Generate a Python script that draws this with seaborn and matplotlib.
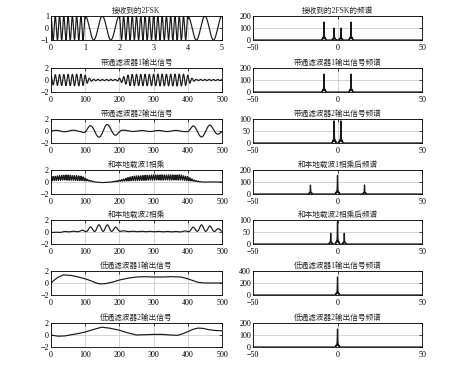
import matplotlib
matplotlib.use('Agg')
import matplotlib.pyplot as plt
import numpy as np
import seaborn as sns

# ---------------- values ----------------
fs = 100                      # samples per second
n_samp = 500
bits = [1, 0, 1, 1, 0]        # one symbol per second
f_mark, f_space = 8, 2        # Hz

# band-pass filter 1 output: envelope of the 8 Hz tone
bp1_n = [0, 10, 90, 100, 112, 125, 190, 200, 230, 390, 400, 412, 425, 500]
bp1_a = [0.7, 0.9, 1.0, 0.8, 0.3, 0.12, 0.1, 0.3, 0.95, 1.0, 0.8, 0.3, 0.1, 0.08]

# band-pass filter 2 output: envelope of the 2 Hz tone, first crest at sample 115
bp2_n = [0, 90, 110, 160, 190, 210, 230, 395, 415, 440, 465, 495, 500]
bp2_a = [0.1, 0.15, 0.85, 1.15, 0.7, 0.15, 0.08, 0.1, 0.85, 1.0, 1.0, 0.4, 0.3]
bp2_crest = 115

# product with local carrier 1 (16 Hz ripple around a slow base)
mix1_n = [0, 40, 90, 110, 130, 150, 175, 200, 240, 300, 380, 400, 420, 440, 500]
mix1_base = [0.55, 0.75, 0.6, 0.25, 0.0, -0.1, 0.0, 0.2, 0.6, 0.75, 0.75, 0.55, 0.2, 0.0, 0.0]
mix1_amp = [0.35, 0.45, 0.4, 0.1, 0.02, 0.01, 0.02, 0.1, 0.4, 0.45, 0.45, 0.35, 0.1, 0.02, 0.0]

# product with local carrier 2 (4 Hz humps, crest at sample 140)
mix2_n = [0, 15, 40, 80, 95, 115, 140, 165, 190, 205, 220, 380, 395, 415, 440, 465, 490, 500]
mix2_base = [0, -0.1, 0.05, 0.1, 0.2, 0.45, 0.65, 0.65, 0.45, 0.2, 0.1, 0.05, 0.12, 0.45, 0.65, 0.55, 0.3, 0.25]
mix2_amp = [0.05, 0.05, 0.03, 0.05, 0.15, 0.4, 0.55, 0.55, 0.35, 0.1, 0.03, 0.03, 0.1, 0.35, 0.55, 0.45, 0.25, 0.2]
mix2_crest = 140

# low-pass outputs
lp1_n = [0, 10, 20, 36, 60, 80, 100, 115, 130, 143, 160, 180, 200, 225, 250, 275, 300,
         325, 350, 380, 400, 415, 430, 445, 460, 480, 500]
lp1_v = [0, 0.5, 0.95, 1.35, 1.25, 1.0, 0.7, 0.4, 0.05, -0.15, -0.1, 0.15, 0.5, 0.8, 1.0,
         1.05, 1.0, 1.0, 1.05, 1.0, 0.7, 0.4, 0.12, 0.02, 0, 0, 0]
lp2_n = [0, 10, 21, 41, 60, 80, 100, 120, 148, 170, 200, 225, 250, 275, 300, 325, 350,
         370, 385, 400, 415, 430, 445, 460, 480, 500]
lp2_v = [0, -0.1, -0.2, -0.15, 0.05, 0.25, 0.5, 0.85, 1.3, 1.15, 0.8, 0.35, 0.0, 0.05,
         0.1, 0.1, 0.0, -0.05, 0.2, 0.55, 0.95, 1.15, 1.1, 0.9, 0.75, 0.7]

# spectra: peak frequencies and heights
spec_f = [[-8, -2, 2, 8], [-8, 8], [-2, 2], [-16, 0, 16], [-4, 0, 4], [0], [0]]
spec_h = [[150, 100, 100, 150], [150, 150], [92, 92], [75, 155, 75], [45, 93, 45], [300], [150]]
spec_ymax = [200, 200, 100, 200, 100, 400, 200]
peak_profile = [0.03, 0.08, 0.04, 0.14, 0.08, 0.3, 1.0, 0.3, 0.08, 0.14, 0.04, 0.08, 0.03]

titles_left = ['接收到的2FSK', '带通滤波器1输出信号', '带通滤波器2输出信号', '和本地载波1相乘',
               '和本地载波2相乘', '低通滤波器1输出信号', '低通滤波器2输出信号']
titles_right = ['接收到的2FSK的频谱', '带通滤波器1输出信号频谱', '带通滤波器2输出信号频谱',
                '和本地载波1相乘后频谱', '和本地载波2相乘后频谱', '低通滤波器1输出信号频谱',
                '低通滤波器2输出信号频谱']

# ---------------- build the signals ----------------
n = np.arange(n_samp)
t = n / fs
freq = np.where(np.repeat(bits, fs) == 1, f_mark, f_space)
s_rx = np.cos(2 * np.pi * freq * t)
s_bp1 = np.interp(n, bp1_n, bp1_a) * np.cos(2 * np.pi * f_mark * t)
s_bp2 = np.interp(n, bp2_n, bp2_a) * np.cos(2 * np.pi * f_space * (n - bp2_crest) / fs)
s_mix1 = np.interp(n, mix1_n, mix1_base) + np.interp(n, mix1_n, mix1_amp) * np.cos(2 * np.pi * 2 * f_mark * t)
s_mix2 = np.interp(n, mix2_n, mix2_base) + np.interp(n, mix2_n, mix2_amp) * np.cos(2 * np.pi * 2 * f_space * (n - mix2_crest) / fs)

left_series = [(t, s_rx), (n, s_bp1), (n, s_bp2), (n, s_mix1), (n, s_mix2),
               (np.array(lp1_n), np.array(lp1_v)), (np.array(lp2_n), np.array(lp2_v))]

fgrid = np.arange(-50, 50, 0.2)
half = len(peak_profile) // 2
spectra = []
for fl, hl in zip(spec_f, spec_h):
    s = np.zeros_like(fgrid)
    for f0, h0 in zip(fl, hl):
        k0 = int(round((f0 + 50) / 0.2))
        s[k0 - half:k0 + half + 1] += h0 * np.array(peak_profile)
    spectra.append(s)

# ---------------- draw ----------------
sns.set_style('white')
plt.rcParams['font.family'] = ['Liberation Serif', 'Noto Sans CJK SC']
plt.rcParams['axes.unicode_minus'] = True

fig = plt.figure(figsize=(4.74, 3.67), dpi=100)
W, H = 474, 367
tops = [16, 68, 119, 170, 220, 271, 323]
ah = 24
lx, lw_ = 51, 171
rx, rw = 253, 169
line_c = '#1a1a1a'
grid_c = '#c4c4c4'


def style(ax):
    for sp in ax.spines.values():
        sp.set_color('black')
        sp.set_linewidth(0.6)
    ax.tick_params(direction='in', length=2, width=0.5, labelsize=5.8,
                   top=True, right=True, colors='black')
    ax.tick_params(axis='x', pad=3)
    ax.tick_params(axis='y', pad=1.5)
    ax.grid(True, color=grid_c, linewidth=0.5)
    ax.set_axisbelow(True)


for i in range(7):
    y0 = 1 - (tops[i] + ah) / H
    # left: time signals
    ax = fig.add_axes([lx / W, y0, lw_ / W, ah / H])
    xs, ys = left_series[i]
    sns.lineplot(x=xs, y=ys, ax=ax, color=line_c, linewidth=0.85, estimator=None, sort=False)
    if i == 0:
        ax.set_xlim(0, 5)
        ax.set_xticks([0, 1, 2, 3, 4, 5])
        ax.set_ylim(-1, 1)
        ax.set_yticks([-1, 0, 1])
    else:
        ax.set_xlim(0, 500)
        ax.set_xticks([0, 100, 200, 300, 400, 500])
        ax.set_ylim(-2, 2)
        ax.set_yticks([-2, 0, 2])
    style(ax)
    ax.set_title(titles_left[i], fontsize=5.5, pad=2.5)

    # right: spectra
    ax = fig.add_axes([rx / W, y0, rw / W, ah / H])
    sns.lineplot(x=fgrid, y=spectra[i], ax=ax, color=line_c, linewidth=0.9, estimator=None, sort=False)
    ax.set_xlim(-50, 50)
    ax.set_xticks([-50, 0, 50])
    ym = spec_ymax[i]
    ax.set_ylim(0, ym)
    ax.set_yticks([0, ym // 2, ym])
    style(ax)
    ax.set_title(titles_right[i], fontsize=5.5, pad=2.5)

fig.savefig('out.png', dpi=100)
